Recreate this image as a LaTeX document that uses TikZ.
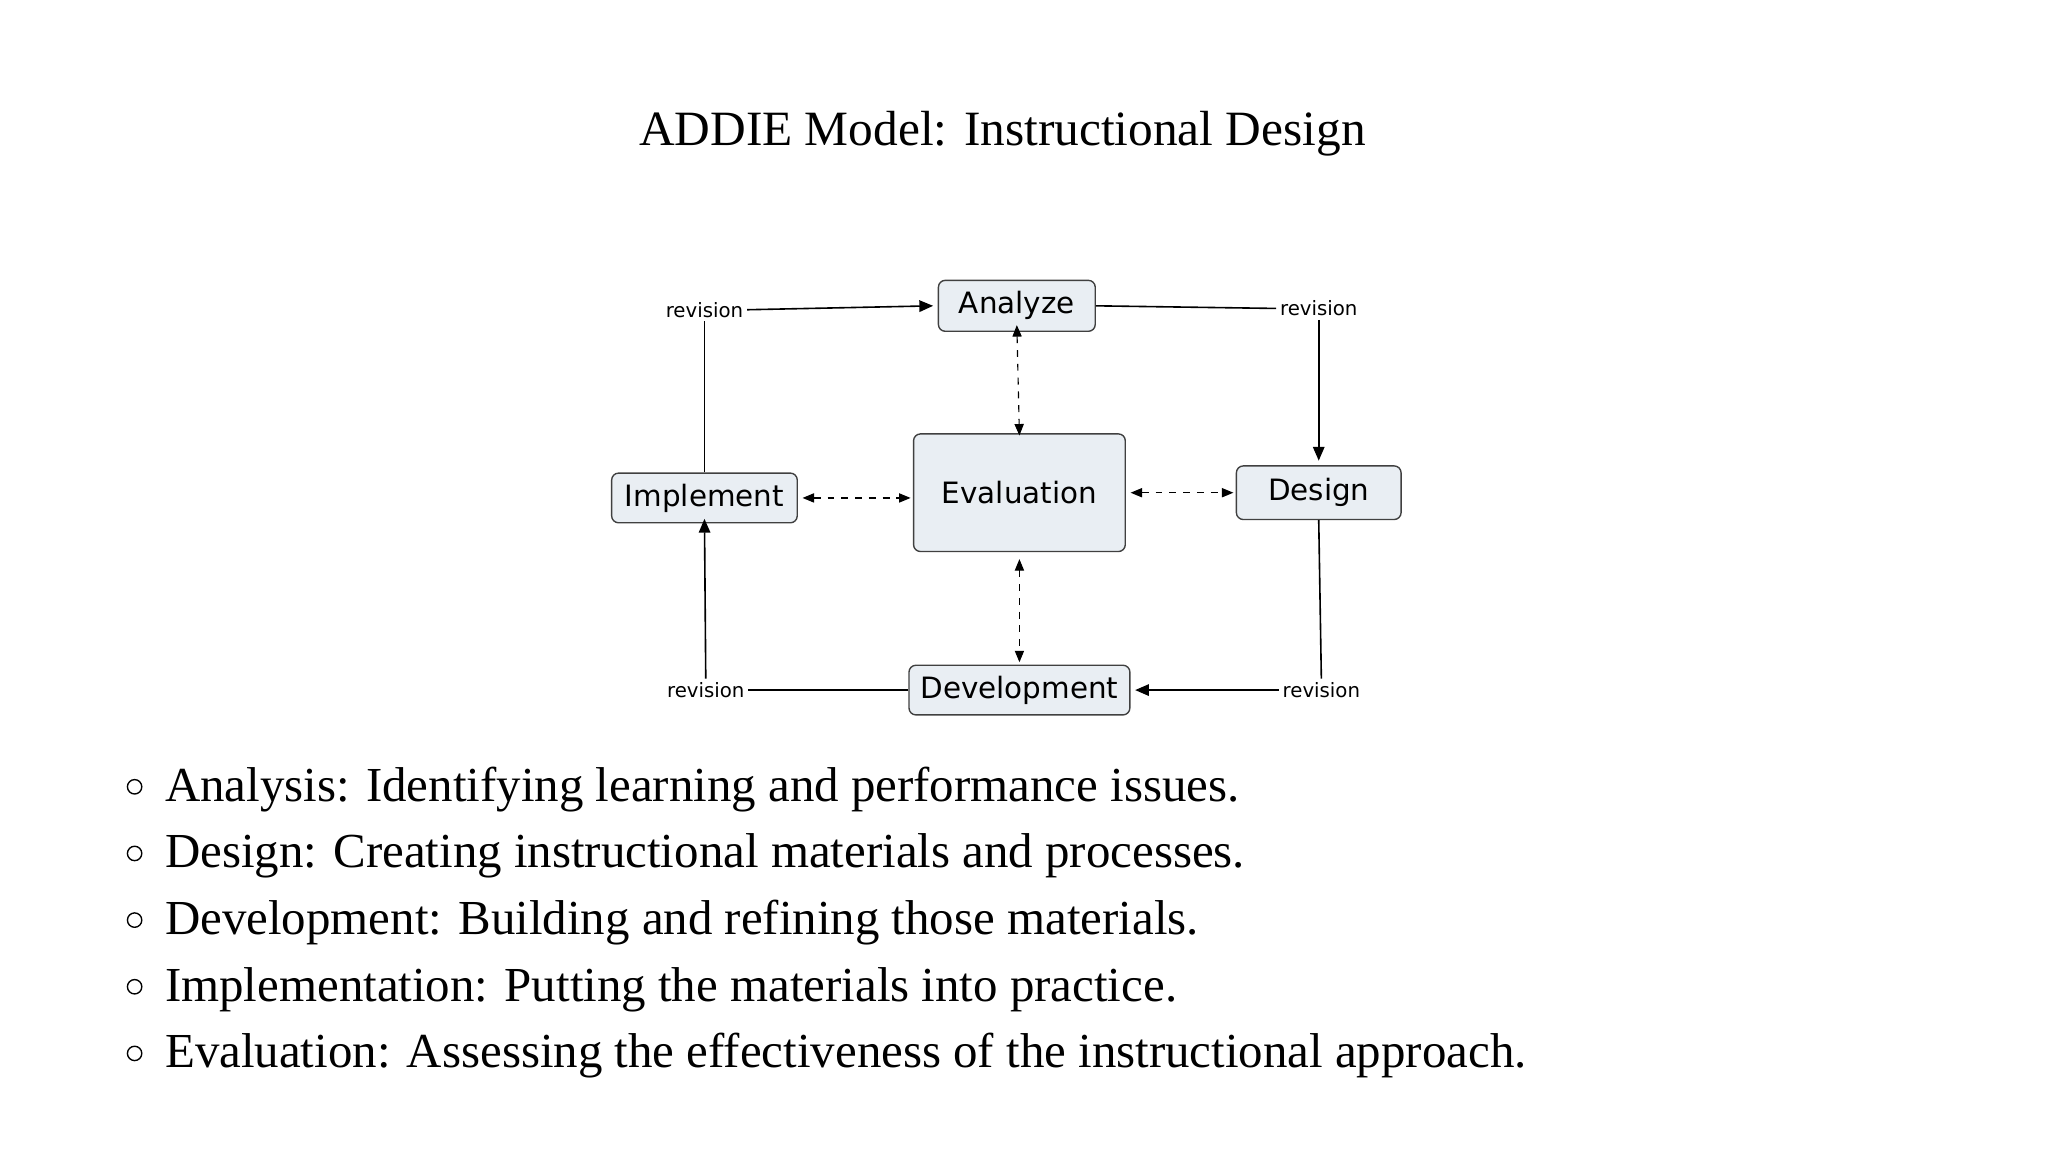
\documentclass[tikz,border=0pt]{standalone}
\usepackage{fontspec}
\setmainfont{Liberation Serif}
\newfontfamily\diag{DejaVu Sans}
\usetikzlibrary{arrows.meta}
\definecolor{boxfill}{HTML}{E9EEF3}
\begin{document}
\begin{tikzpicture}[x=0.02cm,y=-0.02cm,
  box/.style={draw=black!75,fill=boxfill,rounded corners=3pt,line width=0.6pt,font=\diag\fontsize{12.8}{15}\selectfont,inner sep=0pt},
  rev/.style={font=\diag\fontsize{8.6}{10}\selectfont,inner sep=1.5pt},
  solid arrow/.style={line width=0.7pt,-{Triangle[length=6pt,width=5pt]}},
  plain/.style={line width=0.7pt},
  dash arrow/.style={dashed,line width=0.5pt,{Triangle[length=5pt,width=4pt]}-{Triangle[length=5pt,width=4pt]}},
  bullet/.style={anchor=west,font=\fontsize{21.3}{24}\selectfont,inner sep=0pt}]
\useasboundingbox (0,0) rectangle (1567,881);
\node[font=\fontsize{21.5}{26}\selectfont] (title) at (767,102) {ADDIE Model: Instructional Design};
\node[box,minimum width=120*0.02cm,minimum height=39*0.02cm] (an) at (778,234) {Analyze};
\node[box,minimum width=162*0.02cm,minimum height=90*0.02cm] (ev) at (780,377) {Evaluation};
\node[box,minimum width=142*0.02cm,minimum height=38*0.02cm] (im) at (539,381) {Implement};
\node[box,minimum width=126*0.02cm,minimum height=41*0.02cm] (de) at (1009,377) {Design};
\node[box,minimum width=169*0.02cm,minimum height=38*0.02cm] (dv) at (780,528) {Development};
\node[rev] (r1) at (539,237) {revision};
\node[rev] (r2) at (1009,236) {revision};
\node[rev] (r3) at (540,528) {revision};
\node[rev] (r4) at (1011,528) {revision};
\draw[solid arrow] (r1.east) -- ([xshift=-2pt]an.west);
\draw[plain] (an.east) -- (r2.west);
\draw[solid arrow] (r2.south) -- ([yshift=2pt]de.north);
\draw[plain] (de.south) -- (r4.north);
\draw[solid arrow] (r4.west) -- ([xshift=2pt]dv.east);
\draw[plain] (dv.west) -- (r3.east);
\draw[solid arrow] (r3.north) -- ([yshift=2pt]im.south);
\draw[plain] (im.north) -- (r1.south);
\draw[dash arrow] ([yshift=3pt]an.south) -- ([yshift=-1pt]ev.north);
\draw[dash arrow] ([yshift=-3pt]ev.south) -- ([yshift=1pt]dv.north);
\draw[dash arrow] ([xshift=2pt]im.east) -- ([xshift=-1pt]ev.west |- im.east);
\draw[dash arrow] ([xshift=2pt]ev.east |- de.west) -- ([xshift=-1pt]de.west);
\foreach \t [count=\i] in {Analysis: Identifying learning and performance issues.,Design: Creating instructional materials and processes.,Development: Building and refining those materials.,Implementation: Putting the materials into practice.,Evaluation: Assessing the effectiveness of the instructional approach.}{
  \node[bullet] (b\i) at (126,604+51*\i-51) {\t};
  \draw[line width=0.6pt] (103,602+51*\i-51) circle (5.5);
}
\end{tikzpicture}
\end{document}
